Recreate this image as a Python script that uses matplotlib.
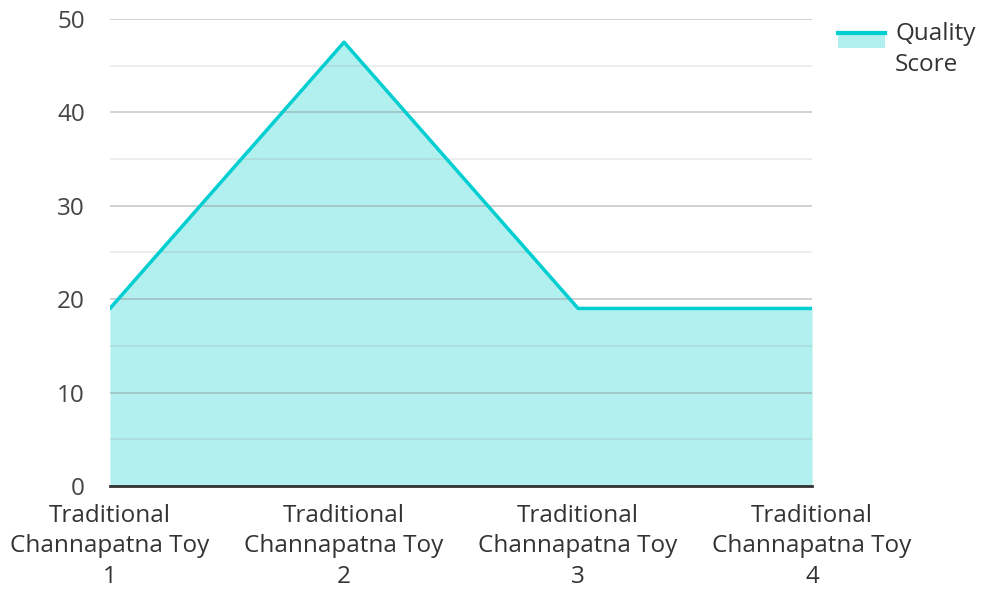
import matplotlib.pyplot as plt
from matplotlib.legend_handler import HandlerBase
from matplotlib.patches import Rectangle
from matplotlib.lines import Line2D

plt.rcParams['font.family'] = ['Open Sans', 'DejaVu Sans']

categories = ['Traditional\nChannapatna Toy\n1', 'Traditional\nChannapatna Toy\n2',
              'Traditional\nChannapatna Toy\n3', 'Traditional\nChannapatna Toy\n4']
quality_score = [19, 47.5, 19, 19]

line_color = '#00CED1'
fill_color = '#b2efef'


class AreaHandler(HandlerBase):
    def create_artists(self, legend, orig, xd, yd, width, height, fontsize, trans):
        y0 = yd + 0.5 * fontsize
        rect = Rectangle((xd, y0), width, height, facecolor=fill_color,
                         edgecolor='none', transform=trans)
        line = Line2D([xd, xd + width], [y0 + height, y0 + height],
                      color=line_color, lw=3, transform=trans)
        return [rect, line]


fig = plt.figure(figsize=(9.82, 5.89), dpi=100)
ax = fig.add_axes([0.112, 0.175, 0.715, 0.793])

x = list(range(len(categories)))
ax.fill_between(x, quality_score, 0, color=fill_color, lw=0, zorder=1)
ln, = ax.plot(x, quality_score, color=line_color, lw=2.5, zorder=3)

ax.set_xlim(0, len(categories) - 1)
ax.set_ylim(0, 50)
ax.set_yticks(range(0, 51, 10))
ax.set_yticks(range(5, 50, 10), minor=True)
ax.grid(True, axis='y', which='major', color='#888888', alpha=0.45, lw=1.2, zorder=2)
ax.grid(True, axis='y', which='minor', color='#888888', alpha=0.18, lw=1.2, zorder=2)
ax.set_axisbelow(False)

ax.set_xticks(x)
ax.set_xticklabels(categories, fontsize=17.5, color='#333333', linespacing=1.36)
ax.tick_params(axis='both', which='both', length=0)
ax.tick_params(axis='y', labelsize=17.5, labelcolor='#444444', pad=18)
ax.tick_params(axis='x', pad=13, labelcolor='#333333')

for s in ['top', 'right', 'left']:
    ax.spines[s].set_visible(False)
ax.spines['bottom'].set_color('#333333')
ax.spines['bottom'].set_linewidth(2)
ax.spines['bottom'].set_zorder(4)

leg = fig.legend([ln], ['Quality\nScore'], handler_map={Line2D: AreaHandler()},
                 loc='upper left', bbox_to_anchor=(838 / 982, 1 - 22 / 589),
                 bbox_transform=fig.transFigure, frameon=False, borderpad=0,
                 borderaxespad=0, fontsize=17.5, handlelength=1.95, handleheight=0.55,
                 handletextpad=0.4, labelcolor='#333333')
for t in leg.get_texts():
    t.set_linespacing(1.39)

fig.savefig('out.png', dpi=100)
